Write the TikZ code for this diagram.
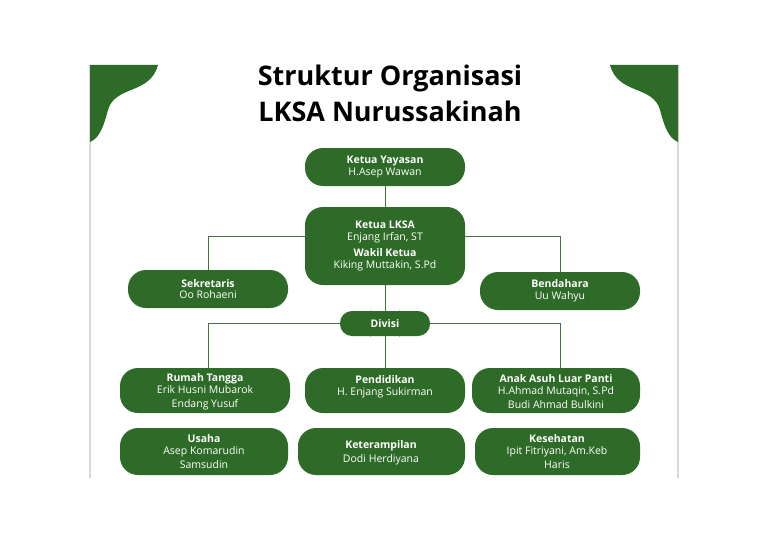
\documentclass[tikz,border=0pt]{standalone}
\usepackage{fontspec}
\setmainfont{Open Sans}
\definecolor{gr}{HTML}{2F6B28}
\begin{document}
\begin{tikzpicture}[x=1pt,y=-1pt,
 box/.style={fill=gr,rounded corners=18pt,text=white,align=center,font=\fontsize{10.5}{11.5}\selectfont,inner sep=0pt},
 ln/.style={gr!70!gray,line width=0.8pt}]
\useasboundingbox (0,0) rectangle (768,543);
\draw[gray!30,line width=1.5pt] (90,65)--(90,478) (678,65)--(678,478);
\fill[gr] (90,65)--(158,65) .. controls (150,95) and (115,85) .. (108,110) .. controls (104,125) and (100,138) .. (90,142)--cycle;
\fill[gr] (678,65)--(610,65) .. controls (618,95) and (653,85) .. (660,110) .. controls (664,125) and (668,138) .. (678,142)--cycle;
\node[font=\fontsize{27}{36}\selectfont\bfseries,align=center] (t) at (390,93) {Struktur Organisasi\\LKSA Nurussakinah};
% connectors
\draw[ln] (208,270)--(208,236)--(560,236)--(560,272);
\draw[ln] (385,186)--(385,207);
\draw[ln] (385,285)--(385,311);
\draw[ln] (208,368)--(208,323)--(560,323)--(560,368);
\draw[ln] (385,336)--(385,368);
\path[box] (305,148) rectangle (465,186); \node[box] (ky) at (385,167) {\textbf{Ketua Yayasan}\\H.Asep Wawan};
\path[box] (305,207) rectangle (465,285); \node[box] (kl) at (385,246) {\textbf{Ketua LKSA}\\Enjang Irfan, ST\\[5pt]\textbf{Wakil Ketua}\\Kiking Muttakin, S.Pd};
\path[box] (128,270) rectangle (288,308); \node[box] (sk) at (208,289) {\textbf{Sekretaris}\\Oo Rohaeni};
\path[box] (480,272) rectangle (640,310); \node[box] (bd) at (560,291) {\textbf{Bendahara}\\Uu Wahyu};
\path[box,rounded corners=12pt] (340,311) rectangle (430,336); \node[box] (dv) at (385,323.5) {\textbf{Divisi}};
\path[box] (120,368) rectangle (290,413); \node[box] (rt) at (205,392) {\textbf{Rumah Tangga}\\Erik Husni Mubarok\\[3pt]Endang Yusuf};
\path[box] (305,368) rectangle (465,413); \node[box] (pd) at (385,387) {\textbf{Pendidikan}\\H. Enjang Sukirman};
\path[box] (472,368) rectangle (640,413); \node[box] (aa) at (556,392) {\textbf{Anak Asuh Luar Panti}\\H.Ahmad Mutaqin, S.Pd\\[3pt]Budi Ahmad Bulkini};
\path[box] (120,428) rectangle (288,475); \node[box] (us) at (204,452) {\textbf{Usaha}\\Asep Komarudin\\[3pt]Samsudin};
\path[box] (298,428) rectangle (465,475); \node[box] (kt) at (381,453) {\textbf{Keterampilan}\\[2pt]Dodi Herdiyana};
\path[box] (475,428) rectangle (640,475); \node[box] (ks) at (557,452) {\textbf{Kesehatan}\\Ipit Fitriyani, Am.Keb\\[3pt]Haris};
\end{tikzpicture}
\end{document}
